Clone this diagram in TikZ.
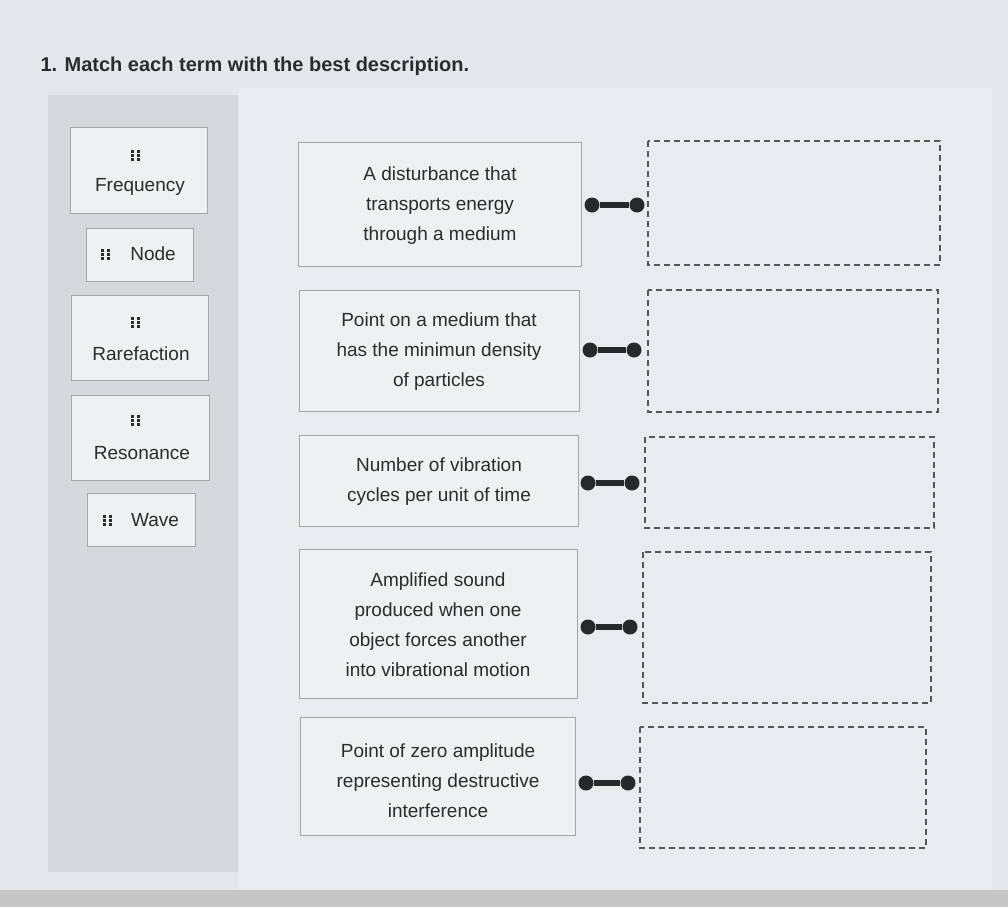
\documentclass[tikz,border=0pt]{standalone}
\usepackage{fontspec}
\setmainfont{Liberation Sans}
\definecolor{bg}{HTML}{E3E7E9}
\definecolor{panel}{HTML}{D5D9DC}
\definecolor{rpanel}{HTML}{E9ECEE}
\definecolor{boxf}{HTML}{EEF0F1}
\definecolor{txt}{HTML}{2A2C2E}
\begin{document}
\begin{tikzpicture}[x=1pt,y=-1pt,
  term/.style={draw=gray!70,fill=boxf,line width=1pt},
  desc/.style={draw=gray!70,fill=boxf,line width=1pt},
  slot/.style={draw=txt!80,dash pattern=on 6pt off 4pt,line width=1.3pt},
  lbl/.style={font=\fontsize{19}{22}\selectfont,text=txt},
  dl/.style={font=\fontsize{19}{30}\selectfont,text=txt,align=center},
  dot/.style={circle,fill=txt!90!black,inner sep=0pt,minimum size=15pt},
  link/.style={line width=6pt,draw=txt!90!black}]
\fill[bg] (0,0) rectangle (1008,907);
\useasboundingbox (0,0) rectangle (1008,907);
\fill[rpanel] (238,88) rectangle (992,892);
\fill[panel] (48,95) rectangle (238,872);
\fill[gray!45] (0,890) rectangle (1008,907);
\node[anchor=west,font=\fontsize{20}{24}\selectfont\bfseries,text=txt] (title) at (37,66) {1. Match each term with the best description.};
\newcommand\grip[2]{\foreach \dx in {-3,3}{\foreach \dy in {-4,0,4}{\fill[txt] (#1+\dx-1.5,#2+\dy-1.5) rectangle ++(3,3);}}}
% terms
\draw[term] (70,127) rectangle (207,213); \grip{135}{155}
\node[lbl] (t1) at (140,187) {Frequency};
\draw[term] (86,228) rectangle (193,281); \grip{105}{254}
\node[lbl] (t2) at (153,254) {Node};
\draw[term] (71,295) rectangle (208,380); \grip{135}{322}
\node[lbl] (t3) at (141,354) {Rarefaction};
\draw[term] (71,395) rectangle (209,480); \grip{135}{420}
\node[lbl] (t4) at (142,453) {Resonance};
\draw[term] (87,493) rectangle (195,546); \grip{107}{520}
\node[lbl] (t5) at (155,520) {Wave};
% descriptions
\draw[desc] (298,142) rectangle (581,266);
\node[dl] (d1) at (440,206) {A disturbance that\\transports energy\\through a medium};
\draw[desc] (299,290) rectangle (579,411);
\node[dl] (d2) at (439,352) {Point on a medium that\\has the minimun density\\of particles};
\draw[desc] (299,435) rectangle (578,526);
\node[dl] (d3) at (439,482) {Number of vibration\\cycles per unit of time};
\draw[desc] (299,549) rectangle (577,698);
\node[dl] (d4) at (438,625) {Amplified sound\\produced when one\\object forces another\\into vibrational motion};
\draw[desc] (300,717) rectangle (575,835);
\node[dl] (d5) at (438,781) {Point of zero amplitude\\representing destructive\\interference};
% slots
\draw[slot] (648,141) rectangle (940,265);
\draw[slot] (648,290) rectangle (938,412);
\draw[slot] (645,437) rectangle (934,528);
\draw[slot] (643,552) rectangle (931,703);
\draw[slot] (640,727) rectangle (926,848);
% connectors
\foreach \i/\xa/\xb/\y in {1/592/637/205,2/590/634/350,3/588/632/483,4/588/630/627,5/586/628/783}{
  \node[dot] (a\i) at (\xa,\y) {};
  \node[dot] (b\i) at (\xb,\y) {};
  \draw[link] (a\i) -- (b\i);
}
\end{tikzpicture}
\end{document}
